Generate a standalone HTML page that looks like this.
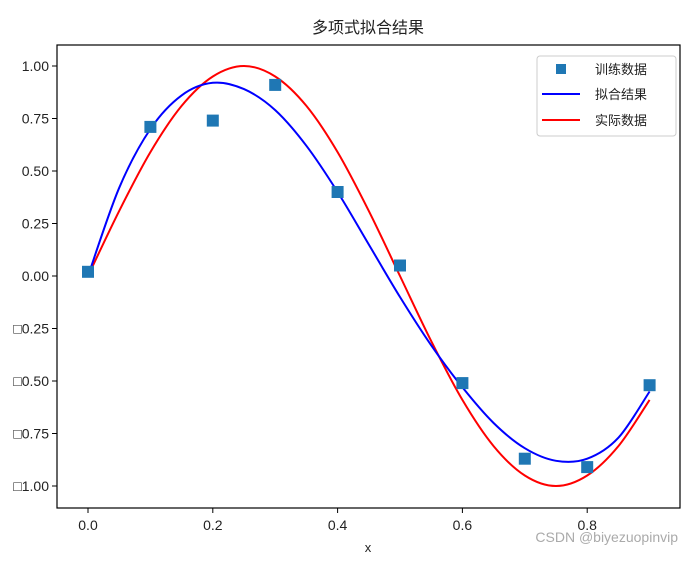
<!DOCTYPE html>
<html><head><meta charset="utf-8"><style>
body{margin:0;background:#fff;}
svg text{font-family:"Liberation Sans","Noto Sans CJK SC",sans-serif;fill:#222;}
</style></head><body>
<svg width="700" height="556" xmlns="http://www.w3.org/2000/svg">
<text x="368" y="33" font-size="16" text-anchor="middle">多项式拟合结果</text>
<g id="plot"></g>
<g id="axes"></g>
<text x="368" y="552" font-size="13" text-anchor="middle">x</text>
<g>
<rect x="537" y="56" width="139" height="80" fill="#fff" stroke="#ccc" rx="3"/>
<rect x="556" y="64" width="10" height="10" fill="#1f77b4"/>
<text x="595" y="74" font-size="13">训练数据</text>
<line x1="542" y1="94" x2="580" y2="94" stroke="#0000ff" stroke-width="2"/>
<text x="595" y="99" font-size="13">拟合结果</text>
<line x1="542" y1="120" x2="580" y2="120" stroke="#ff0000" stroke-width="2"/>
<text x="595" y="125" font-size="13">实际数据</text>
</g>
<text x="678" y="542" font-size="14" text-anchor="end" style="fill:#aaa">CSDN @biyezuopinvip</text>
</svg>
<script>
const trainX=[0,0.1,0.2,0.3,0.4,0.5,0.6,0.7,0.8,0.9];
const trainY=[0.02,0.71,0.74,0.91,0.40,0.05,-0.51,-0.87,-0.91,-0.52];
const curveX=[0,0.05,0.1,0.15,0.2,0.25,0.3,0.35,0.4,0.45,0.5,0.55,0.6,0.65,0.7,0.75,0.8,0.85,0.9];
const fitY=[0.0,0.42,0.70,0.86,0.92,0.89,0.79,0.62,0.40,0.15,-0.10,-0.33,-0.53,-0.70,-0.82,-0.88,-0.87,-0.77,-0.55];
const actualY=[0,0.31,0.59,0.81,0.95,1.0,0.95,0.81,0.59,0.31,0,-0.31,-0.59,-0.81,-0.95,-1,-0.95,-0.81,-0.59];
const xTicks=[0,0.2,0.4,0.6,0.8];
const xTickLabels=["0.0","0.2","0.4","0.6","0.8"];
const yTicks=[1,0.75,0.5,0.25,0,-0.25,-0.5,-0.75,-1];
const yTickLabels=["1.00","0.75","0.50","0.25","0.00","□0.25","□0.50","□0.75","□1.00"];
const L=57,R=680,T=45,B=508;
const sx=v=>88+v*624;
const sy=v=>276-v*210;
const NS="http://www.w3.org/2000/svg";
const plot=document.getElementById('plot'),axes=document.getElementById('axes');
function mk(tag,attrs,parent){const e=document.createElementNS(NS,tag);for(const k in attrs)e.setAttribute(k,attrs[k]);parent.appendChild(e);return e;}
function smooth(xs,ys){const p=xs.map((x,i)=>[sx(x),sy(ys[i])]);let d="M"+p[0][0]+","+p[0][1];
for(let i=0;i<p.length-1;i++){const p0=p[Math.max(0,i-1)],p1=p[i],p2=p[i+1],p3=p[Math.min(p.length-1,i+2)];
d+=" C"+(p1[0]+(p2[0]-p0[0])/6)+","+(p1[1]+(p2[1]-p0[1])/6)+" "+(p2[0]-(p3[0]-p1[0])/6)+","+(p2[1]-(p3[1]-p1[1])/6)+" "+p2[0]+","+p2[1];}return d;}
const ap=mk('path',{d:smooth(curveX,actualY),fill:'none',stroke:'#ff0000','stroke-width':2},plot);


const fp=mk('path',{d:smooth(curveX,fitY),fill:'none',stroke:'#0000ff','stroke-width':2},plot);


trainX.forEach((x,i)=>{const r=mk('rect',{x:sx(x)-6,y:sy(trainY[i])-6,width:12,height:12,fill:'#1f77b4'},plot);

});
const fr=mk('rect',{x:L,y:T,width:R-L,height:B-T,fill:'none',stroke:'#000','stroke-width':1.2},axes);


xTicks.forEach((v,i)=>{mk('line',{x1:sx(v),x2:sx(v),y1:B,y2:B+5,stroke:'#000'},axes);
const t=mk('text',{x:sx(v),y:B+22,'font-size':14,'text-anchor':'middle'},axes);t.textContent=xTickLabels[i];

});
yTicks.forEach((v,i)=>{mk('line',{x1:L-5,x2:L,y1:sy(v),y2:sy(v),stroke:'#000'},axes);
const t=mk('text',{x:L-8,y:sy(v)+5,'font-size':14,'text-anchor':'end'},axes);t.textContent=yTickLabels[i];

});
</script>
</body></html>
